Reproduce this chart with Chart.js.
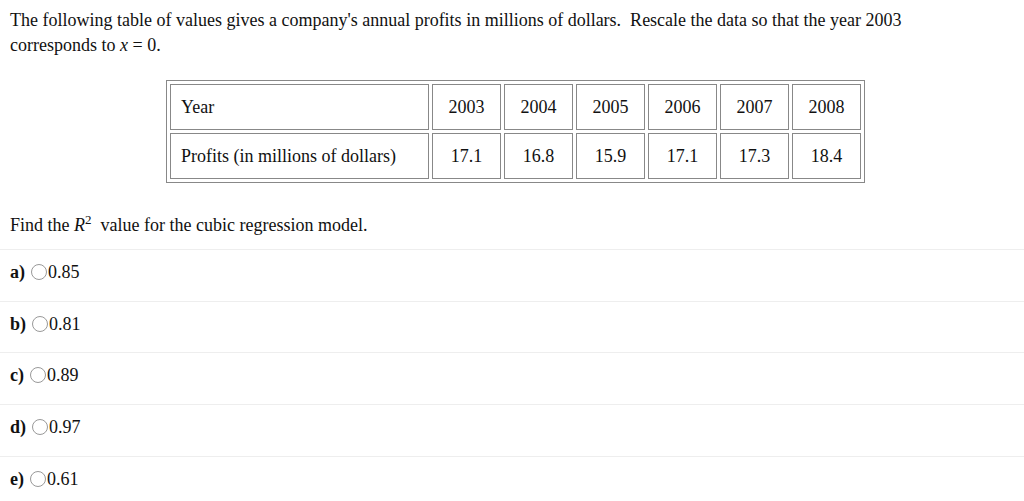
<!DOCTYPE html>
<html><head><meta charset="utf-8">
<script src="https://cdn.jsdelivr.net/npm/chart.js@4/dist/chart.umd.min.js"></script>
<style>
body{margin:0;width:1024px;height:501px;background:#fff;font-family:"Liberation Serif","Times New Roman",serif;color:#111;position:relative;overflow:hidden}
.q{position:absolute;left:10px;top:8px;font-size:18px;line-height:25px}
table{position:absolute;left:166px;top:80px;border:1px solid #888;border-spacing:3px;font-size:18px}
td{border:1px solid #888;height:44px;padding:0 10px;text-align:center}
td:first-child{text-align:left;width:237px}
td.n{width:47px}
.find{position:absolute;left:10px;top:212px;font-size:18px}
.row{position:absolute;left:0;width:1024px;border-top:1px solid #eee;height:51px}
.opt{position:absolute;left:10px;font-size:18px}
.opt b{margin-right:6px}
.rad{display:inline-block;width:14px;height:14px;border:1px solid #999;border-radius:50%;vertical-align:-2px;margin-right:1px}
#c{position:absolute;left:0;top:0;width:1px;height:1px}
</style></head><body>
<div class="q">The following table of values gives a company's annual profits in millions of dollars. &nbsp;Rescale the data so that the year 2003<br>corresponds to <i>x</i> = 0.</div>
<table id="t"></table>
<div class="find">Find the <i>R</i><sup style="font-size:13px">2</sup> &nbsp;value for the cubic regression model.</div>
<div id="opts"></div>
<canvas id="c"></canvas>
<script>
const years = ['2003', '2004', '2005', '2006', '2007', '2008'];
const profits = ['17.1', '16.8', '15.9', '17.1', '17.3', '18.4'];
const letters = ['a)', 'b)', 'c)', 'd)', 'e)'];
const choices = ['0.85', '0.81', '0.89', '0.97', '0.61'];

const t = document.getElementById('t');
t.innerHTML =
  '<tr><td>Year</td>' + years.map(y => '<td class="n">' + y + '</td>').join('') + '</tr>' +
  '<tr><td>Profits (in millions of dollars)</td>' + profits.map(p => '<td class="n">' + p + '</td>').join('') + '</tr>';

const opts = document.getElementById('opts');
letters.forEach((l, i) => {
  const top = 249 + i * 51.7;
  opts.innerHTML += '<div class="row" style="top:' + top + 'px"></div>' +
    '<div class="opt" style="top:' + (top + 13) + 'px"><b>' + l + '</b><span class="rad"></span>' + choices[i] + '</div>';
});

new Chart(document.getElementById('c'), {
  type: 'line',
  data: { labels: years, datasets: [{ data: profits.map(Number), borderWidth: 0, pointRadius: 0 }] },
  options: { responsive: false, animation: false, plugins: { legend: { display: false } }, scales: { x: { display: false }, y: { display: false } } }
});
</script>
</body></html>
